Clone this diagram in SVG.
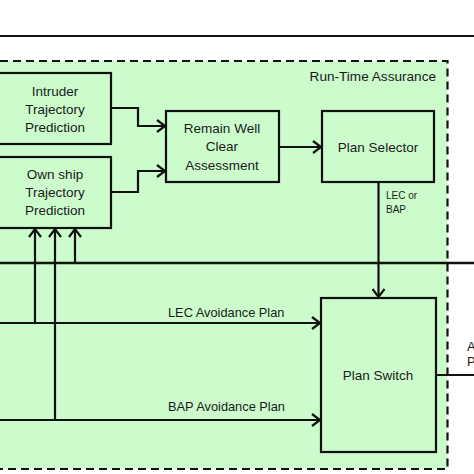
<svg xmlns="http://www.w3.org/2000/svg" width="474" height="474" viewBox="0 0 474 474">
<style>
.box{fill:#ccfccc;stroke:#111;stroke-width:2.2}
.ln{fill:none;stroke:#111;stroke-width:2.2}
.t{font-family:"Liberation Sans",Arial,sans-serif;font-size:13.5px;fill:#1a1a1a;text-anchor:middle}
.s{font-family:"Liberation Sans",Arial,sans-serif;font-size:10px;fill:#1a1a1a}
.l{font-family:"Liberation Sans",Arial,sans-serif;font-size:12.8px;fill:#1a1a1a}
</style>
<defs>
<marker id="ah" markerWidth="12" markerHeight="14" refX="9" refY="7" orient="auto" markerUnits="userSpaceOnUse">
<path d="M1,1 L9,7 L1,13" fill="none" stroke="#111" stroke-width="2.2"/>
</marker>
</defs>
<rect width="474" height="474" fill="#fff"/>
<line x1="0" y1="36" x2="474" y2="36" stroke="#111" stroke-width="2"/>
<g id="rta">
<rect x="-5" y="61" width="452.5" height="408" fill="#ccfccc"/>
<path d="M0,61 H447.5 V469 H0" fill="none" stroke="#111" stroke-width="2.2" stroke-dasharray="8,5"/>
<text x="436" y="81" font-family="Liberation Sans,Arial,sans-serif" font-size="13.6" fill="#1a1a1a" text-anchor="end">Run-Time Assurance</text>
</g>
<g id="intruder">
<rect class="box" x="-5" y="73" width="116" height="71"/>
<text class="t" x="55" y="96">Intruder</text>
<text class="t" x="55" y="114">Trajectory</text>
<text class="t" x="55" y="132">Prediction</text>
</g>
<g id="ownship">
<rect class="box" x="-5" y="157" width="116" height="71"/>
<text class="t" x="55" y="179">Own ship</text>
<text class="t" x="55" y="197">Trajectory</text>
<text class="t" x="55" y="215">Prediction</text>
</g>
<g id="rwc">
<rect class="box" x="166" y="111" width="113" height="71"/>
<text class="t" x="222" y="133">Remain Well</text>
<text class="t" x="222" y="151">Clear</text>
<text class="t" x="222" y="170">Assessment</text>
</g>
<g id="selector">
<rect class="box" x="322" y="111" width="112" height="71"/>
<text class="t" x="378" y="152">Plan Selector</text>
</g>
<g id="switch">
<rect class="box" x="321" y="298" width="115" height="154"/>
<text class="t" x="378" y="380">Plan Switch</text>
</g>
<g id="connectors">
<path class="ln" d="M111,108 H138 V126 H165" marker-end="url(#ah)"/>
<path class="ln" d="M111,192 H138 V171 H165" marker-end="url(#ah)"/>
<path class="ln" d="M279,147 H321" marker-end="url(#ah)"/>
<path class="ln" d="M378.5,182 V297" marker-end="url(#ah)"/>
<line x1="0" y1="263" x2="474" y2="263" stroke="#111" stroke-width="2.5"/>
<path class="ln" d="M75,263 V229" marker-end="url(#ah)"/>
<path class="ln" d="M35,323 V229" marker-end="url(#ah)"/>
<path class="ln" d="M55,420 V229" marker-end="url(#ah)"/>
<path class="ln" d="M0,323 H320" marker-end="url(#ah)"/>
<path class="ln" d="M0,420 H320" marker-end="url(#ah)"/>
<path class="ln" d="M436,375 H474"/>
<text class="s" x="386" y="199">LEC or</text>
<text class="s" x="386" y="213">BAP</text>
<text class="l" x="168" y="317">LEC Avoidance Plan</text>
<text class="l" x="168" y="411">BAP Avoidance Plan</text>
<text class="l" x="467" y="351">A</text>
<text class="l" x="467" y="366">P</text>
</g>
</svg>
